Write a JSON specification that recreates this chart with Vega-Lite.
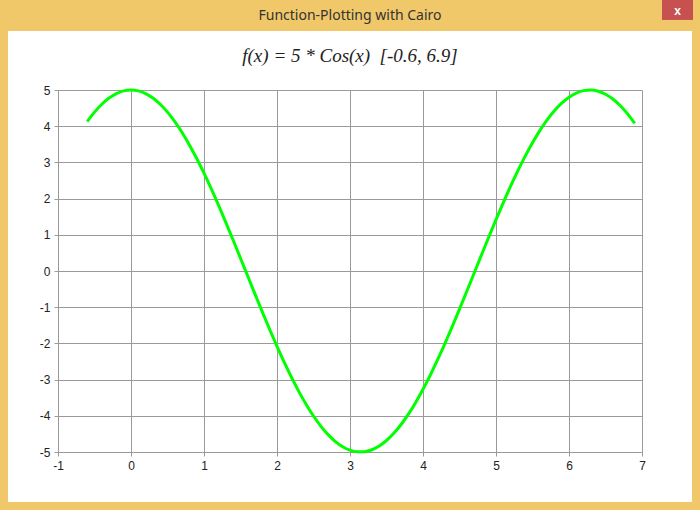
{
  "$schema": "https://vega.github.io/schema/vega-lite/v6.json",
  "width": 584,
  "height": 362,
  "autosize": {"type": "none"},
  "padding": {"left": 58, "top": 90, "right": 58, "bottom": 58},
  "background": "#ffffff",
  "title": {
    "text": "Function-Plotting with Cairo",
    "subtitle": "f(x) = 5 * Cos(x) \u00a0[-0.6, 6.9]",
    "anchor": "middle",
    "frame": "group",
    "font": "Noto Sans",
    "fontSize": 14,
    "fontWeight": "normal",
    "color": "#333333",
    "subtitleFont": "Liberation Serif",
    "subtitleFontSize": 19,
    "subtitleFontStyle": "italic",
    "subtitleColor": "#222222",
    "subtitlePadding": 24,
    "offset": -66,
    "zindex": 1
  },
  "config": {
    "view": {"stroke": null},
    "axis": {
      "grid": true,
      "gridColor": "#9a9a9a",
      "gridWidth": 1,
      "domainColor": "#9a9a9a",
      "tickColor": "#9a9a9a",
      "tickSize": 4,
      "labelFont": "Liberation Sans",
      "labelFontSize": 12,
      "labelColor": "#222222",
      "labelPadding": 4,
      "labelFlush": false,
      "labelOverlap": false,
      "labelExpr": "toString(datum.value)",
      "title": null
    },
    "axisX": {"tickCount": 8},
    "axisY": {"tickCount": 10}
  },
  "data": {
    "values": [
      {"x": -0.6, "y": 4.1267}, {"x": -0.5, "y": 4.3879}, {"x": -0.4, "y": 4.6053}, {"x": -0.3, "y": 4.7767},
      {"x": -0.2, "y": 4.9003}, {"x": -0.1, "y": 4.975}, {"x": 0.0, "y": 5.0}, {"x": 0.1, "y": 4.975},
      {"x": 0.2, "y": 4.9003}, {"x": 0.3, "y": 4.7767}, {"x": 0.4, "y": 4.6053}, {"x": 0.5, "y": 4.3879},
      {"x": 0.6, "y": 4.1267}, {"x": 0.7, "y": 3.8242}, {"x": 0.8, "y": 3.4835}, {"x": 0.9, "y": 3.108},
      {"x": 1.0, "y": 2.7015}, {"x": 1.1, "y": 2.268}, {"x": 1.2, "y": 1.8118}, {"x": 1.3, "y": 1.3375},
      {"x": 1.4, "y": 0.8498}, {"x": 1.5, "y": 0.3537}, {"x": 1.6, "y": -0.146}, {"x": 1.7, "y": -0.6442},
      {"x": 1.8, "y": -1.136}, {"x": 1.9, "y": -1.6164}, {"x": 2.0, "y": -2.0807}, {"x": 2.1, "y": -2.5242},
      {"x": 2.2, "y": -2.9425}, {"x": 2.3, "y": -3.3314}, {"x": 2.4, "y": -3.687}, {"x": 2.5, "y": -4.0057},
      {"x": 2.6, "y": -4.2844}, {"x": 2.7, "y": -4.5204}, {"x": 2.8, "y": -4.7111}, {"x": 2.9, "y": -4.8548},
      {"x": 3.0, "y": -4.95}, {"x": 3.1, "y": -4.9957}, {"x": 3.2, "y": -4.9915}, {"x": 3.3, "y": -4.9374},
      {"x": 3.4, "y": -4.834}, {"x": 3.5, "y": -4.6823}, {"x": 3.6, "y": -4.4838}, {"x": 3.7, "y": -4.2405},
      {"x": 3.8, "y": -3.9548}, {"x": 3.9, "y": -3.6297}, {"x": 4.0, "y": -3.2682}, {"x": 4.1, "y": -2.8741},
      {"x": 4.2, "y": -2.4513}, {"x": 4.3, "y": -2.004}, {"x": 4.4, "y": -1.5367}, {"x": 4.5, "y": -1.054},
      {"x": 4.6, "y": -0.5608}, {"x": 4.7, "y": -0.0619}, {"x": 4.8, "y": 0.4375}, {"x": 4.9, "y": 0.9326},
      {"x": 5.0, "y": 1.4183}, {"x": 5.1, "y": 1.8899}, {"x": 5.2, "y": 2.3426}, {"x": 5.3, "y": 2.7719},
      {"x": 5.4, "y": 3.1735}, {"x": 5.5, "y": 3.5434}, {"x": 5.6, "y": 3.8778}, {"x": 5.7, "y": 4.1736},
      {"x": 5.8, "y": 4.4276}, {"x": 5.9, "y": 4.6374}, {"x": 6.0, "y": 4.8009}, {"x": 6.1, "y": 4.9163},
      {"x": 6.2, "y": 4.9827}, {"x": 6.3, "y": 4.9993}, {"x": 6.4, "y": 4.9659}, {"x": 6.5, "y": 4.8829},
      {"x": 6.6, "y": 4.7512}, {"x": 6.7, "y": 4.5719}, {"x": 6.8, "y": 4.347}, {"x": 6.9, "y": 4.0786}
    ]
  },
  "layer": [
    {
      "mark": {"type": "line", "color": "#00ff00", "strokeWidth": 3, "interpolate": "monotone"},
      "encoding": {
        "x": {"field": "x", "type": "quantitative",
              "scale": {"domain": [-1, 7], "nice": false, "zero": false}},
        "y": {"field": "y", "type": "quantitative",
              "scale": {"domain": [-5, 5], "nice": false, "zero": false}}
      }
    },
    {
      "data": {"values": [{}]},
      "mark": {"type": "rect", "color": "#f0c869", "clip": false},
      "encoding": {"x": {"datum": -2}, "x2": {"datum": 8.7}, "y": {"datum": 7.5}, "y2": {"datum": 6.63}}
    },
    {
      "data": {"values": [{}]},
      "mark": {"type": "rect", "color": "#f0c869", "clip": false},
      "encoding": {"x": {"datum": -2}, "x2": {"datum": -1.685}, "y": {"datum": 7.5}, "y2": {"datum": -7.1}}
    },
    {
      "data": {"values": [{}]},
      "mark": {"type": "rect", "color": "#f0c869", "clip": false},
      "encoding": {"x": {"datum": 7.685}, "x2": {"datum": 8.7}, "y": {"datum": 7.5}, "y2": {"datum": -7.1}}
    },
    {
      "data": {"values": [{}]},
      "mark": {"type": "rect", "color": "#f0c869", "clip": false},
      "encoding": {"x": {"datum": -2}, "x2": {"datum": 8.7}, "y": {"datum": -6.381}, "y2": {"datum": -7.1}}
    },
    {
      "data": {"values": [{}]},
      "mark": {"type": "rect", "color": "#c75050", "clip": false},
      "encoding": {"x": {"datum": 7.274}, "x2": {"datum": 7.699}, "y": {"datum": 7.5}, "y2": {"datum": 6.935}}
    },
    {
      "data": {"values": [{"label": "x"}]},
      "mark": {"type": "text", "color": "#ffffff", "font": "Liberation Sans", "fontSize": 12, "fontWeight": "bold", "clip": false, "baseline": "middle", "align": "center"},
      "encoding": {"x": {"datum": 7.486}, "y": {"datum": 7.184}, "text": {"field": "label"}}
    }
  ]
}
